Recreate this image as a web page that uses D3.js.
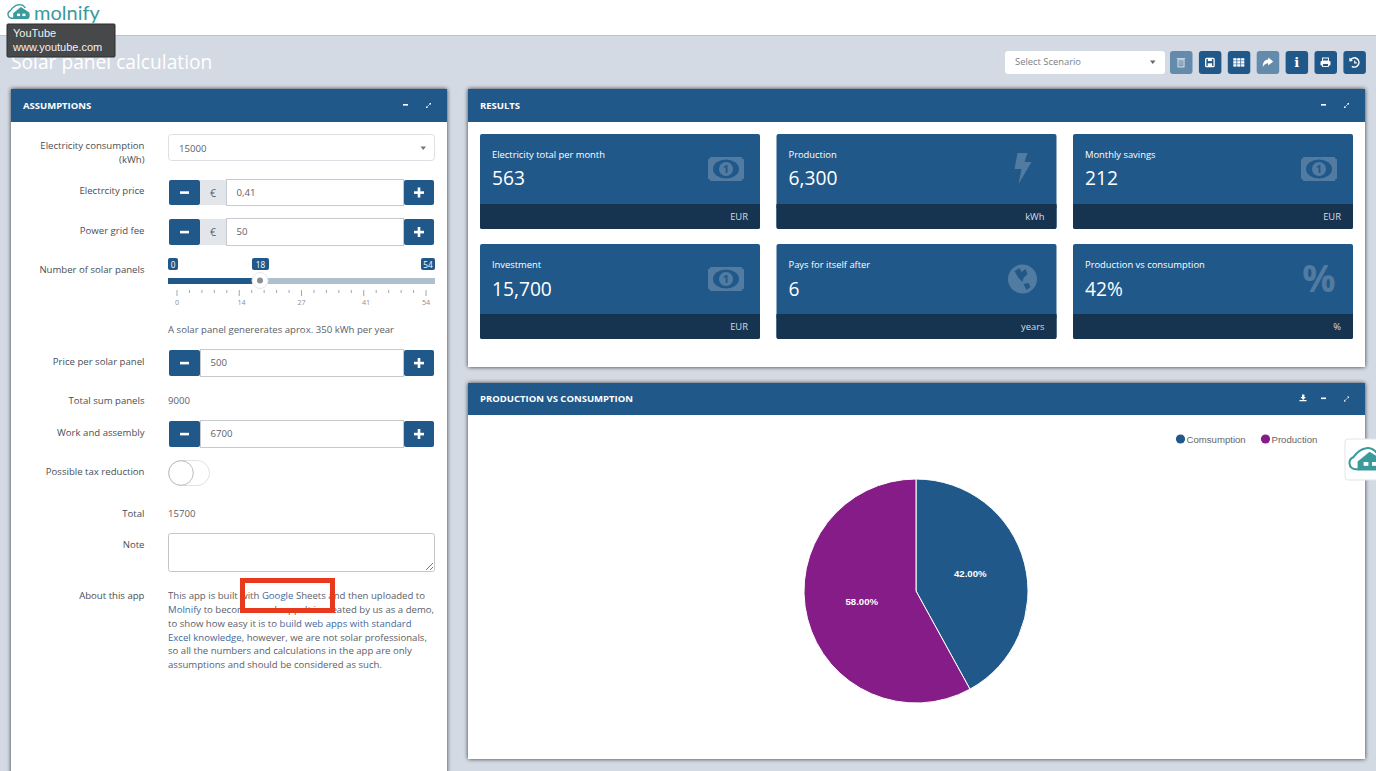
<!DOCTYPE html>
<html>
<head>
<meta charset="utf-8">
<script src="https://cdn.jsdelivr.net/npm/d3@7.9.0/dist/d3.min.js"></script>
<style>
html, body { margin: 0; padding: 0; background: #d3dae3; overflow: hidden; }
svg { display: block; font-family: "Open Sans", sans-serif; }
</style>
</head>
<body>
<svg id="page" width="1376" height="771"></svg>
<script>
// chart values
const pieCategories = ['Comsumption', 'Production'];
const pieValues = [42, 58];
const pieColors = ['#21588a', '#851c87'];

// result cards
const cardTitles = ['Electricity total per month', 'Production', 'Monthly savings', 'Investment', 'Pays for itself after', 'Production vs consumption'];
const cardValues = ['563', '6,300', '212', '15,700', '6', '42%'];
const cardUnits = ['EUR', 'kWh', 'EUR', 'EUR', 'years', '%'];
const cardIcons = ['money', 'bolt', 'money', 'money', 'globe', 'percent'];

// slider
const sliderMin = 0, sliderMax = 54, sliderValue = 18;
const sliderTicks = [0, 14, 27, 41, 54];

const blue = '#21588a', dark = '#163450', grey = '#5b6068';
const svg = d3.select('#page');

const defs = svg.append('defs');
const shadow = defs.append('filter').attr('id', 'shadow')
    .attr('x', '-3%').attr('y', '-3%').attr('width', '106%').attr('height', '106%');
shadow.append('feDropShadow').attr('dx', 0).attr('dy', 0).attr('stdDeviation', 2.2)
    .attr('flood-color', '#000').attr('flood-opacity', 0.75);

function label(x, y, str, opt = {}) {
    return svg.append('text').attr('x', x).attr('y', y).text(str)
        .attr('font-size', opt.size || 9.6)
        .attr('fill', opt.fill || grey)
        .attr('text-anchor', opt.anchor || 'start')
        .attr('font-weight', opt.weight || 400)
        .attr('opacity', opt.opacity === undefined ? 1 : opt.opacity)
        .style('font-family', opt.family || null);
}
function box(x, y, w, h, fill, opt = {}) {
    return svg.append('rect').attr('x', x).attr('y', y).attr('width', w).attr('height', h)
        .attr('rx', opt.r || 0).attr('fill', fill)
        .attr('stroke', opt.stroke || 'none')
        .attr('stroke-width', opt.sw || 1)
        .attr('opacity', opt.opacity === undefined ? 1 : opt.opacity);
}

// top bar
box(0, 0, 1376, 35, '#fff');
box(0, 35, 1376, 1, '#bfc3c9');
label(11, 69, 'Solar panel calculation', { size: 19.2, fill: '#fff' });

// logo cloud
function cloud(x, y, s, fill) {
    const g = svg.append('g').attr('transform', `translate(${x},${y}) scale(${s})`);
    g.append('path').attr('d', 'M9 18.5 H6 A5.2 5.2 0 0 1 4.5 8.5 Q9 2 15 1 Q20 0 24 5')
        .attr('fill', 'none').attr('stroke', fill).attr('stroke-width', 1.7);
    g.append('path').attr('d', 'M8 19.5 L8 12 L18 4 L29 11 Q31 19.5 26 19.5 Z').attr('fill', fill);
    g.append('rect').attr('x', 13).attr('y', 12.5).attr('width', 4).attr('height', 3.2).attr('fill', '#fff');
    g.append('rect').attr('x', 20).attr('y', 12.5).attr('width', 4).attr('height', 3.2).attr('fill', '#fff');
}
cloud(7, 4, 0.77, '#3a9a9c');
label(34, 20, 'molnify', { size: 20, fill: '#3a9a9c', family: 'Lato, sans-serif' });

// toolbar
box(1005, 51, 160, 23, '#fff', { r: 3 });
label(1015, 65, 'Select Scenario', { size: 9.4, fill: '#7a7f86' });
svg.append('path').attr('d', 'M1150 60.5 h5.5 l-2.75 3.5 z').attr('fill', '#666');

const toolbarX = d3.range(7).map(i => 1170 + i * 28.9);
const toolbarFaded = [true, false, false, true, false, false, false];
toolbarX.forEach((x, i) => box(x, 51, 22.5, 23, blue, { r: 3, opacity: toolbarFaded[i] ? 0.62 : 1 }));
function tool(i) { return svg.append('g').attr('transform', `translate(${toolbarX[i] + 11},62.5)`); }
// trash
tool(0).call(g => {
    g.append('rect').attr('x', -3).attr('y', -2.6).attr('width', 6).attr('height', 7).attr('fill', 'none').attr('stroke', '#dfe6ee').attr('stroke-width', 1);
    g.append('rect').attr('x', -4.2).attr('y', -4.3).attr('width', 8.4).attr('height', 1).attr('fill', '#dfe6ee');
    g.append('path').attr('d', 'M-1 -1.5 V3 M1 -1.5 V3').attr('stroke', '#dfe6ee').attr('stroke-width', 0.7);
});
// save
tool(1).call(g => {
    g.append('rect').attr('x', -4.2).attr('y', -4.2).attr('width', 8.4).attr('height', 8.4).attr('rx', 1).attr('fill', 'none').attr('stroke', '#fff').attr('stroke-width', 1.3);
    g.append('rect').attr('x', -2).attr('y', -4).attr('width', 4).attr('height', 2.6).attr('fill', '#fff');
    g.append('rect').attr('x', -2.2).attr('y', 0.8).attr('width', 4.4).attr('height', 3).attr('fill', '#fff');
});
// table
tool(2).call(g => {
    d3.range(3).forEach(r => d3.range(3).forEach(c => {
        g.append('rect').attr('x', -5.5 + c * 3.9).attr('y', -4.3 + r * 3).attr('width', 3.2).attr('height', 2.4).attr('fill', '#fff');
    }));
});
// share
tool(3).call(g => {
    g.append('path').attr('d', 'M0.5 -5 L5.5 -1 L0.5 3 L0.5 0.7 Q-3 0.7 -5 4.5 Q-5 -2.5 0.5 -2.9 Z').attr('fill', '#fff');
});
// info
tool(4).append('text').attr('text-anchor', 'middle').attr('y', 4.5).attr('font-size', 13).attr('font-weight', 700)
    .attr('fill', '#fff').style('font-family', '"DejaVu Serif", serif').text('i');
// print
tool(5).call(g => {
    g.append('rect').attr('x', -5).attr('y', -1.5).attr('width', 10).attr('height', 4.5).attr('rx', 1).attr('fill', '#fff');
    g.append('rect').attr('x', -3).attr('y', -4.5).attr('width', 6).attr('height', 3).attr('fill', 'none').attr('stroke', '#fff');
    g.append('rect').attr('x', -3).attr('y', 1).attr('width', 6).attr('height', 3).attr('fill', blue).attr('stroke', '#fff').attr('stroke-width', 0.9);
});
// reset
tool(6).call(g => {
    g.append('path').attr('d', 'M-3.6 -3 A4.6 4.6 0 1 1 -2.6 3.8').attr('fill', 'none').attr('stroke', '#fff').attr('stroke-width', 1.5);
    g.append('path').attr('d', 'M-5 -5 L-1.5 -1.5 L-5 -1 Z').attr('fill', '#fff');
    g.append('path').attr('d', 'M0.3 -2 V0.4 H2.4').attr('fill', 'none').attr('stroke', '#fff').attr('stroke-width', 1.1);
});

// panels
function panel(x, y, w, h, headH, title) {
    svg.append('rect').attr('x', x).attr('y', y).attr('width', w).attr('height', h)
        .attr('fill', '#fff').attr('filter', 'url(#shadow)');
    box(x, y, w, headH, blue);
    label(x + 12, y + headH / 2 + 3.4, title, { size: 9.5, fill: '#fff', weight: 700 });
    const right = x + w;
    const cy = y + headH / 2;
    box(right - 44, cy - 1.5, 5, 1.6, '#fff');
    // expand icon: two small corners
    svg.append('path').attr('d', `M${right - 21} ${cy + 2.5} h2 l-2 -2 z M${right - 16} ${cy - 2.5} h-2 l2 2 z`)
        .attr('fill', '#fff');
    svg.append('path').attr('d', `M${right - 20} ${cy + 1.5} L${right - 17} ${cy - 1.5}`)
        .attr('stroke', '#fff').attr('stroke-width', 0.6);
}
panel(11, 89, 436, 690, 33, 'ASSUMPTIONS');
panel(468, 89, 897, 278, 33, 'RESULTS');
panel(468, 383, 897, 376, 32, 'PRODUCTION VS CONSUMPTION');
// download icon of chart panel
svg.append('path').attr('d', 'M1302 394.5 h2.4 v2.5 h1.5 l-2.7 3 l-2.7 -3 h1.5 z M1299.5 400 h7 v1.2 h-7 z').attr('fill', '#fff');

// form labels, right aligned
const formLabels = ['Electricity consumption', '(kWh)', 'Electrcity price', 'Power grid fee', 'Number of solar panels',
    'Price per solar panel', 'Total sum panels', 'Work and assembly', 'Possible tax reduction', 'Total', 'Note', 'About this app'];
const formLabelY = [149, 163, 194, 234, 273, 365, 404, 436, 475, 517, 548, 599];
formLabels.forEach((t, i) => label(144.5, formLabelY[i], t, { anchor: 'end', fill: '#4a4e55' }));

// select
box(168.5, 134.5, 266, 26, '#fff', { r: 3, stroke: '#dcdfe3' });
label(179, 152, '15000');
svg.append('path').attr('d', 'M420.5 146.5 h5.5 l-2.75 3.5 z').attr('fill', '#777');

// number input with - and + buttons
function spinner(y, h, value, euro) {
    box(169, y, 31, h, blue, { r: 2 });
    box(180, y + h / 2 - 1.2, 9, 2.6, '#fff');
    let inputX = 200;
    if (euro) {
        box(200, y, 26, h, '#e2e5e9');
        label(213, y + h / 2 + 4, '€', { anchor: 'middle', size: 10.5 });
        inputX = 226;
    }
    box(inputX + 0.5, y - 0.5, 403 - inputX, h + 1, '#fff', { stroke: '#c6c9ce' });
    label(inputX + 10.5, y + h / 2 + 3.4, value);
    box(404, y, 30, h, blue, { r: 2 });
    box(414, y + h / 2 - 1.2, 10, 2.6, '#fff');
    box(417.7, y + h / 2 - 5, 2.6, 10, '#fff');
}
spinner(180, 25, '0,41', true);
spinner(219, 26, '50', true);
spinner(350, 26, '500', false);
spinner(421, 26, '6700', false);

// slider, drawn from its own scale
const sliderScale = d3.scaleLinear().domain([sliderMin, sliderMax]).range([177, 426]);
const minorTicks = d3.range(sliderMin, sliderMax + 0.01, sliderMax / 20);
svg.append('g').selectAll('line').data(minorTicks).join('line')
    .attr('x1', d => sliderScale(d)).attr('x2', d => sliderScale(d))
    .attr('y1', 290).attr('y2', d => (minorTicks.indexOf(d) % 5 === 0) ? 296 : 293)
    .attr('stroke', '#8b8f95').attr('stroke-width', 0.8);
box(168, 278, 267, 6, '#aebfce');
box(168, 278, sliderScale(sliderValue) - 168, 6, blue);
sliderTicks.forEach(t => label(sliderScale(t), 305, t, { anchor: 'middle', size: 7.2, fill: '#8c9096' }));
svg.append('circle').attr('cx', sliderScale(sliderValue)).attr('cy', 280.5).attr('r', 8).attr('fill', '#fff').attr('stroke', '#e4e6e9');
svg.append('circle').attr('cx', sliderScale(sliderValue)).attr('cy', 280.5).attr('r', 3).attr('fill', '#8a8f96');
function badge(x, w, t) {
    box(x, 258, w, 12, blue, { r: 2 });
    label(x + w / 2, 267.5, t, { anchor: 'middle', size: 8.2, fill: '#fff' });
}
badge(168, 10, sliderMin);
badge(252, 17, sliderValue);
badge(421, 14, sliderMax);

label(168, 333, 'A solar panel genererates aprox. 350 kWh per year');
label(168, 404, '9000');
label(168, 517, '15700');

// toggle
box(168.5, 460.5, 41, 25, '#fff', { r: 12.5, stroke: '#dfe1e4' });
svg.append('circle').attr('cx', 181).attr('cy', 473).attr('r', 12.3).attr('fill', '#fff').attr('stroke', '#b9bcc1');

// note
box(168.5, 533.5, 266, 38, '#fff', { r: 2, stroke: '#c3c6cb' });
svg.append('path').attr('d', 'M426 570 L433 563 M430 570 L433 567').attr('stroke', '#555').attr('stroke-width', 0.8);

// about text
const linkBlue = '#3f6a9b';
const aboutLines = [
    [['This app is built with ', 0], ['Google', 1], [' Sheets and then uploaded to', 0]],
    [['Molnify', 1], [' to become a web app. It is created by us as a demo,', 0]],
    [['to show how easy it is to ', 0], ['build web apps with standard', 1]],
    [['Excel knowledge', 1], [', however, we are not solar professionals,', 0]],
    [['so all the numbers and calculations in the app are only', 0]],
    [['assumptions and should be considered as such.', 0]]
];
const aboutY = [599, 613, 627, 641, 654, 668];
aboutLines.forEach((parts, i) => {
    const t = label(168, aboutY[i], null);
    parts.forEach(p => t.append('tspan').text(p[0]).attr('fill', p[1] ? linkBlue : grey));
});

// highlight box over the text
svg.append('rect').attr('x', 242.5).attr('y', 580.5).attr('width', 90).attr('height', 30)
    .attr('fill', 'none').attr('stroke', '#e8391c').attr('stroke-width', 5);

// result cards
const cardX = [480, 776.5, 1073];
const cardY = [134, 244];
const iconColor = '#527ba1';
function cardIcon(name, cx, cy) {
    const g = svg.append('g').attr('transform', `translate(${cx},${cy})`);
    if (name === 'money') {
        g.append('rect').attr('x', -18).attr('y', -12).attr('width', 36).attr('height', 24).attr('fill', iconColor);
        g.append('ellipse').attr('rx', 13).attr('ry', 9.5).attr('fill', blue);
        g.append('circle').attr('r', 7).attr('fill', iconColor);
        g.append('text').attr('text-anchor', 'middle').attr('y', 4).attr('font-size', 11).attr('font-weight', 700).attr('fill', blue).text('1');
        [[-18, -12], [18, -12], [-18, 12], [18, 12]].forEach(c => g.append('circle').attr('cx', c[0]).attr('cy', c[1]).attr('r', 2.2).attr('fill', blue));
    } else if (name === 'bolt') {
        g.append('path').attr('d', 'M-5 -16 L5 -16 L2 -7 L9 -7 L-4 15 L-1 0 L-8 0 Z').attr('fill', iconColor);
    } else if (name === 'globe') {
        g.append('circle').attr('r', 14.5).attr('fill', iconColor);
        g.append('path').attr('d', 'M-8 -8 L-3 -11 L-1 -7 L3 -10 L5 -5 L1 -1 L0 3 L-4 -1 Z').attr('fill', blue);
        g.append('path').attr('d', 'M1 5 L6 4 L8 8 L4 11 Z').attr('fill', blue);
    } else {
        g.append('text').attr('text-anchor', 'middle').attr('y', 13).attr('font-size', 37).attr('font-weight', 700)
            .attr('fill', iconColor).text('%');
    }
}
cardTitles.forEach((t, i) => {
    const row = Math.floor(i / 3);
    const x = cardX[i % 3], y = cardY[row];
    box(x, y, 280, 95, blue, { r: 2 });
    box(x, y + 70, 280, 25, dark, { r: 2 });
    box(x, y + 70, 280, 4, dark);
    label(x + 12, y + 24, t, { size: 9.4, fill: '#fff', weight: 500 });
    label(x + 12, y + 51 + row, cardValues[i], { size: 19.2, fill: '#fff' });
    label(x + 268, y + 86, cardUnits[i], { size: 9.4, fill: '#d5dce4', anchor: 'end' });
    cardIcon(cardIcons[i], x + 246, y + 35);
});

// pie
const pieCx = 916, pieCy = 591, pieR = 112;
const pie = d3.pie().sort(null).value(d => d);
const arc = d3.arc().innerRadius(0).outerRadius(pieR);
const labelArc = d3.arc().innerRadius(pieR * 0.5).outerRadius(pieR * 0.5);
const pieG = svg.append('g').attr('transform', `translate(${pieCx},${pieCy})`);
const slices = pie(pieValues);
pieG.selectAll('path').data(slices).join('path')
    .attr('d', arc)
    .attr('fill', (d, i) => pieColors[i])
    .attr('stroke', '#fff').attr('stroke-width', 1);
pieG.selectAll('text').data(slices).join('text')
    .attr('transform', d => `translate(${labelArc.centroid(d)})`)
    .attr('text-anchor', 'middle')
    .attr('font-size', 9.6).attr('font-weight', 700).attr('fill', '#fff')
    .style('font-family', '"Liberation Sans", Arial, sans-serif')
    .text(d => d3.format('.2f')(d.value) + '%');

// legend
const legendX = [1180.5, 1265.5];
pieCategories.forEach((c, i) => {
    svg.append('circle').attr('cx', legendX[i]).attr('cy', 439).attr('r', 4.6).attr('fill', pieColors[i]);
    label(legendX[i] + 6, 442.5, c, { size: 9.6, fill: '#666', family: '"Liberation Sans", Arial, sans-serif' });
});

// floating widget
svg.append('rect').attr('x', 1345).attr('y', 439).attr('width', 40).attr('height', 41).attr('rx', 3)
    .attr('fill', '#fff').attr('stroke', '#e3e5e8');
cloud(1348, 447, 1.2, '#3a9a9c');

// browser tooltip, on top of the title
box(7, 24, 108, 33, '#47484a', { r: 1, stroke: '#2c2c2e' });
label(13, 37, 'YouTube', { size: 11, fill: '#f2f2f2', family: '"Liberation Sans", Arial, sans-serif' });
label(13, 51, 'www.youtube.com', { size: 11, fill: '#f2f2f2', family: '"Liberation Sans", Arial, sans-serif' });
</script>
</body>
</html>
